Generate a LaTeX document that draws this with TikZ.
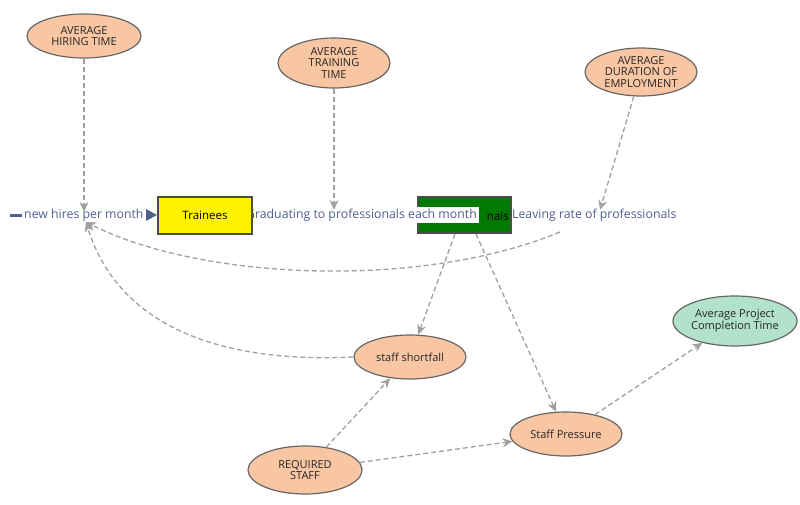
\documentclass[tikz,border=0pt]{standalone}
\usepackage{fontspec}
\setmainfont{Open Sans}
\usetikzlibrary{arrows.meta,shapes.geometric}
\definecolor{peach}{HTML}{F9C6A3}
\definecolor{mint}{HTML}{B2E2CC}
\definecolor{flowtxt}{HTML}{4F5F8F}
\definecolor{dgreen}{HTML}{007A00}
\definecolor{lgray}{HTML}{A0A0A0}
\begin{document}
\begin{tikzpicture}[x=1pt,y=-1pt,font=\fontsize{11.5}{13}\selectfont,
 aux/.style={ellipse,draw=gray!80!black,line width=1.2pt,fill=peach,align=center,inner sep=0pt,text=black!85,font=\fontsize{11}{11.5}\selectfont},
 link/.style={draw=lgray,line width=1.3pt,dash pattern=on 5pt off 3pt,-{Stealth[length=10pt,width=9pt]}},
 flow/.style={text=flowtxt,inner sep=1pt,font=\fontsize{12.3}{13}\selectfont}]
\useasboundingbox (0,0) rectangle (800,505);
\node[aux,minimum width=114pt,minimum height=44pt] (ht) at (84,36) {AVERAGE\\HIRING TIME};
\node[aux,minimum width=112pt,minimum height=50pt] (tt) at (334,63) {AVERAGE\\TRAINING\\TIME};
\node[aux,minimum width=112pt,minimum height=48pt] (de) at (641,72) {AVERAGE\\DURATION OF\\EMPLOYMENT};
\node[aux,minimum width=112pt,minimum height=44pt] (sf) at (410,357) {staff shortfall};
\node[aux,minimum width=114pt,minimum height=48pt] (rs) at (305,470) {REQUIRED\\STAFF};
\node[aux,minimum width=112pt,minimum height=44pt] (sp) at (566,434) {Staff Pressure};
\node[aux,fill=mint,minimum width=110pt,minimum height=50pt] (pc) at (735,321) {Average Project\\Completion Time};
% flow row
\draw[flowtxt,line width=3pt] (10,215) -- (22,215);
\node[flow,anchor=west] (hires) at (23,215) {new hires per month};
\fill[flowtxt] (146,209) -- (157,215) -- (146,221) -- cycle;
\node[draw=black!70,line width=1.2pt,fill=dgreen,minimum width=93pt,minimum height=36pt] (pro) at (464.5,215) {};
\node[anchor=east,inner sep=0pt] at (509,216) {nals};
\node[flow,anchor=east,fill=white,inner sep=2pt] (grad) at (479,215) {Graduating to professionals each month};
\node[draw=black!70,line width=1.2pt,fill=yellow,minimum width=94pt,minimum height=37pt] (tr) at (205,215.5) {Trainees};
\node[flow,anchor=west] (leave) at (511,215) {Leaving rate of professionals};
\coordinate (hv) at (86,222);
\coordinate (gv) at (334,210);
\coordinate (lv) at (600,210);
% links
\draw[link] (ht) -- (84,212);
\draw[link] (tt) -- (gv);
\draw[link] (de) -- (lv);
\draw[link] (455,234) -- (sf);
\draw[link] (476,234) -- (sp);
\draw[link] (sf.west) .. controls (180,365) and (110,300) .. (hv);
\draw[link] (560,232) .. controls (420,290) and (200,280) .. (hv);
\draw[link] (rs) -- (sf);
\draw[link] (rs) -- (sp);
\draw[link] (sp) -- (pc);
\end{tikzpicture}
\end{document}
